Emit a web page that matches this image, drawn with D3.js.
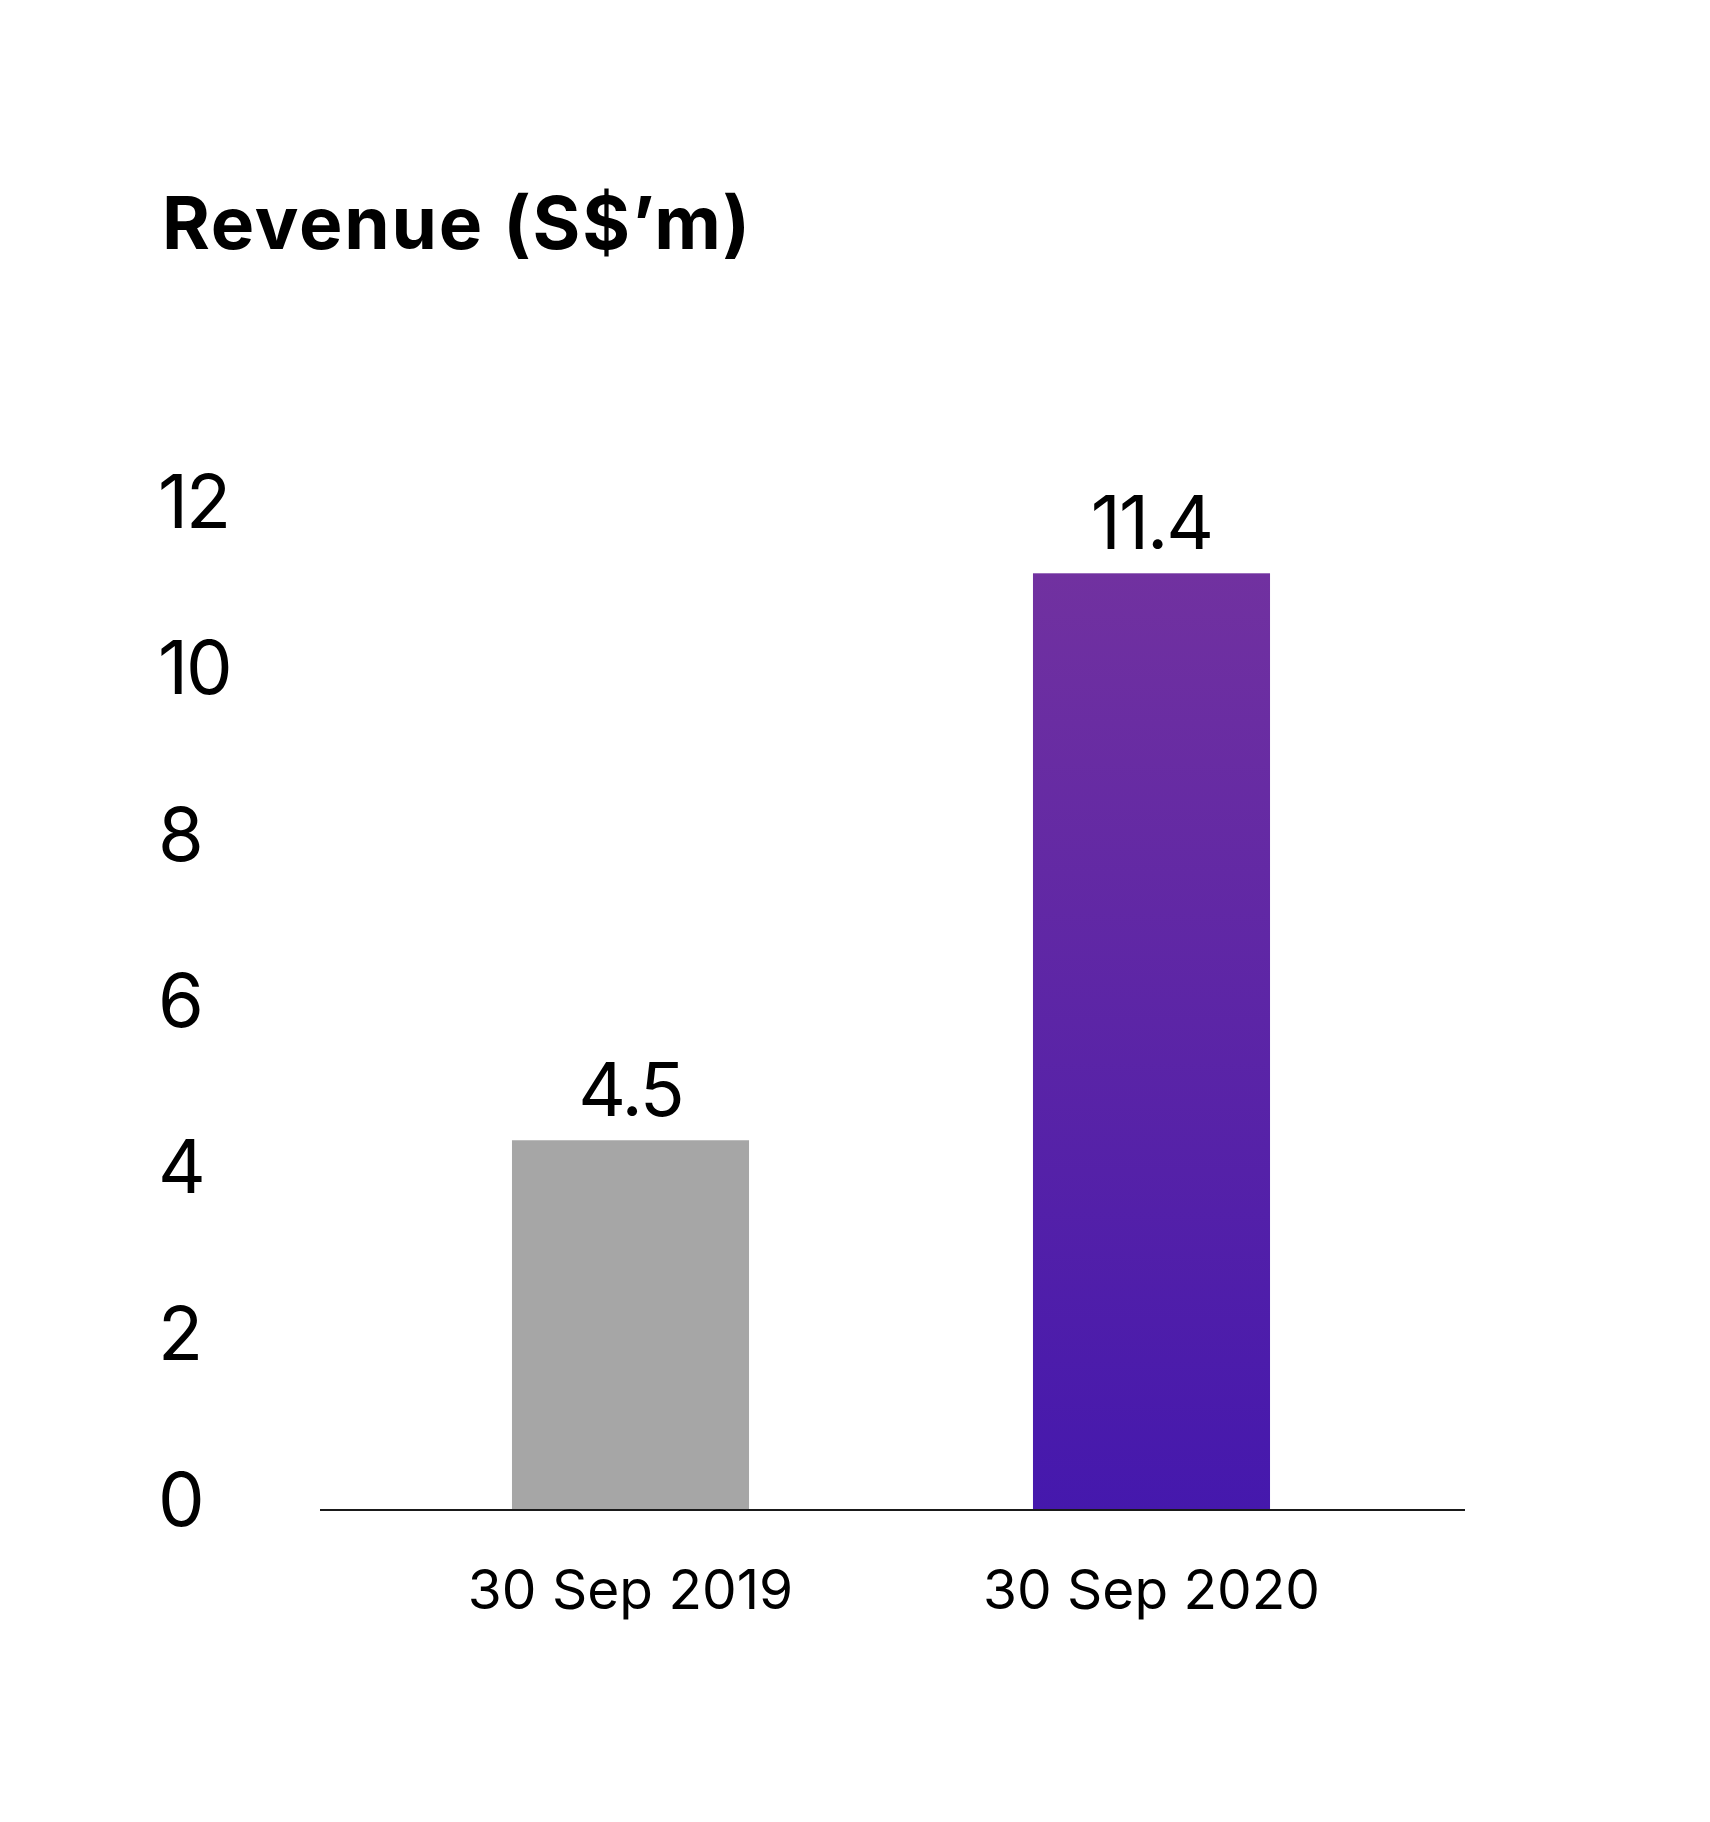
<!DOCTYPE html>
<html>
<head>
<meta charset="utf-8">
<script src="https://cdn.jsdelivr.net/npm/d3@7"></script>
<style>
  html, body { margin: 0; padding: 0; background: #fff; }
  svg { display: block; }
</style>
</head>
<body>
<svg id="chart" width="1710" height="1822"></svg>
<script>
// chart values
const categories = ['30 Sep 2019', '30 Sep 2020'];
const revenue = [4.5, 11.4];
const valueLabels = ['4.5', '11.4'];
const yTicks = [0, 2, 4, 6, 8, 10, 12];
const title = 'Revenue (S$\u2019m)';

const svg = d3.select('#chart');
const font = 'Inter, "Open Sans", sans-serif';

const x = d3.scaleBand()
  .domain(categories)
  .range([370, 1412])
  .paddingInner(0.545)
  .paddingOuter(0.2725);

const y = d3.scaleLinear().domain([0, 12]).range([1510, 524]);
// tick labels sit a little off the bar scale in the original
const yLabel = d3.scaleLinear().domain([0, 12]).range([1499, 501]);

// gradient for the current year bar
const defs = svg.append('defs');
const grad = defs.append('linearGradient')
  .attr('id', 'purple')
  .attr('x1', 0).attr('y1', 0).attr('x2', 0).attr('y2', 1);
grad.append('stop').attr('offset', '0%').attr('stop-color', '#7131a0');
grad.append('stop').attr('offset', '100%').attr('stop-color', '#4518ad');

svg.append('text')
  .attr('x', 162)
  .attr('y', 249)
  .attr('font-family', font)
  .attr('font-weight', 700)
  .attr('font-size', 73)
  .attr('letter-spacing', 1.8)
  .attr('fill', '#000')
  .text(title);

// y labels, left aligned
svg.append('g').selectAll('text')
  .data(yTicks)
  .join('text')
  .attr('x', 158)
  .attr('y', d => yLabel(d) + 27)
  .attr('font-family', font)
  .attr('font-size', 74)
  .attr('letter-spacing', -2)
  .attr('fill', '#000')
  .text(d => d);

svg.append('g').selectAll('rect')
  .data(revenue)
  .join('rect')
  .attr('x', (d, i) => x(categories[i]))
  .attr('y', d => y(d))
  .attr('width', x.bandwidth())
  .attr('height', d => y(0) - y(d))
  .attr('fill', (d, i) => i === 0 ? '#a6a6a6' : 'url(#purple)');

svg.append('g').selectAll('text')
  .data(revenue)
  .join('text')
  .attr('x', (d, i) => x(categories[i]) + x.bandwidth() / 2)
  .attr('y', d => y(d) - 24)
  .attr('text-anchor', 'middle')
  .attr('font-family', font)
  .attr('font-size', 74)
  .attr('letter-spacing', -2)
  .attr('fill', '#000')
  .text((d, i) => valueLabels[i]);

svg.append('line')
  .attr('x1', 320).attr('x2', 1465)
  .attr('y1', y(0)).attr('y2', y(0))
  .attr('stroke', '#1a1a1a')
  .attr('stroke-width', 2);

svg.append('g').selectAll('text')
  .data(categories)
  .join('text')
  .attr('x', d => x(d) + x.bandwidth() / 2)
  .attr('y', 1609)
  .attr('text-anchor', 'middle')
  .attr('font-family', font)
  .attr('font-size', 55)
  .attr('fill', '#000')
  .text(d => d);
</script>
</body>
</html>
